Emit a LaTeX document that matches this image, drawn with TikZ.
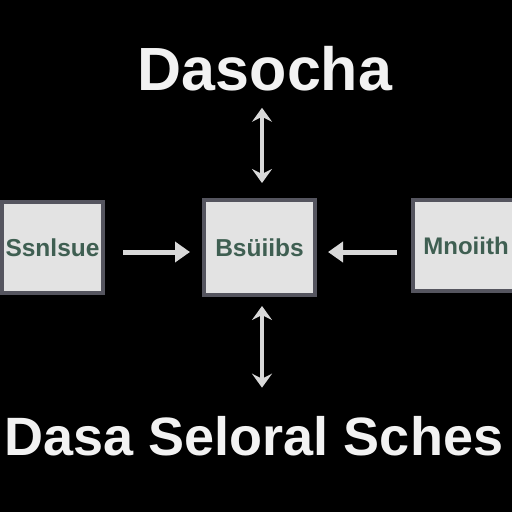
\documentclass[tikz,border=0pt]{standalone}
\usepackage{fontspec}
\setmainfont{Liberation Sans}
\usetikzlibrary{arrows.meta}

\definecolor{boxfill}{HTML}{E3E3E3}
\definecolor{boxedge}{HTML}{55555F}
\definecolor{boxtext}{HTML}{3F5F52}
\definecolor{arrowgrey}{HTML}{D9D9D9}

\begin{document}
\begin{tikzpicture}[x=1pt,y=-1pt]

\tikzstyle{block}=[rectangle,draw=boxedge,line width=4pt,fill=boxfill,inner sep=0pt,text=boxtext,font=\fontsize{24.5}{24.5}\selectfont\bfseries]
\tikzstyle{bigText}=[inner sep=0pt,text=white!95!black,font=\bfseries]
\tikzstyle{flow}=[draw=arrowgrey,line width=5pt,-{Triangle[width=20pt,length=15pt]}]
\tikzstyle{updown}=[draw=arrowgrey,line width=4pt,{Stealth[width=20pt,length=14pt,inset=5pt]}-{Stealth[width=20pt,length=14pt,inset=5pt]}]

\fill[black] (0,0) rectangle (512,512);
\useasboundingbox (0,0) rectangle (512,512);

%Labels
\node[bigText,anchor=base,font=\fontsize{61}{61}\selectfont\bfseries] (title) at (265,90) {Dasocha};
\node[bigText,anchor=base,font=\fontsize{54}{54}\selectfont\bfseries] (footer) at (254,455) {Dasa Seloral Sches};

%Boxes
\node[block,minimum width=101pt,minimum height=91pt] (leftBox) at (52.5,247.5) {Ssnlsue};
\node[block,minimum width=111pt,minimum height=95pt] (centerBox) at (259.5,247.5) {Bsüiibs};
\node[block,minimum width=106pt,minimum height=91pt,font=\fontsize{24}{24}\selectfont\bfseries] (rightBox) at (466,245.5) {Mnoiith};

%horizontal connections.
\draw[flow,shorten <=18pt,shorten >=12pt] ([yshift=-4.5pt]leftBox.east) -- ([yshift=-4.5pt]centerBox.west);
\draw[flow,shorten <=14pt,shorten >=11pt] ([yshift=-6.5pt]rightBox.west) -- ([yshift=-4.5pt]centerBox.east);

%vertical connections.
\draw[updown,shorten <=17pt,shorten >=15pt] ([xshift=2.5pt]title.south -| centerBox.north) -- ([xshift=2.5pt]centerBox.north);
\draw[updown,shorten <=9pt,shorten >=28pt] ([xshift=2.5pt]centerBox.south) -- ([xshift=2.5pt]footer.north -| centerBox.south);

\end{tikzpicture}
\end{document}
